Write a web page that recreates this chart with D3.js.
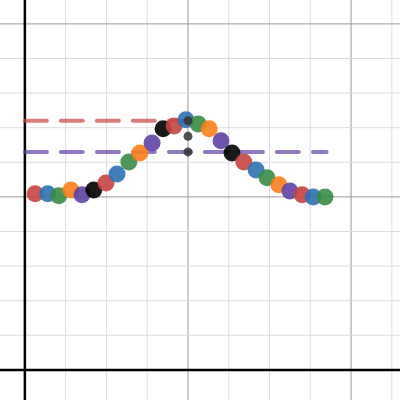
<!DOCTYPE html>
<html><head><meta charset="utf-8">
<script src="https://cdn.jsdelivr.net/npm/d3@7"></script>
<style>body{margin:0;background:#fff}</style></head>
<body><svg id="chart" width="400" height="400"></svg>
<script>
var xs = [0.25,0.56,0.83,1.13,1.40,1.69,1.99,2.26,2.55,2.82,3.12,3.39,3.66,3.95,4.25,4.52,4.81,5.08,5.37,5.67,5.94,6.23,6.50,6.80,7.07,7.36];
var ys = [5.09,5.09,5.03,5.20,5.06,5.20,5.40,5.66,6.01,6.27,6.56,6.97,7.05,7.23,7.11,6.97,6.62,6.27,6.01,5.78,5.55,5.35,5.17,5.06,5.00,5.00];
var colorKeys = ["r","b","g","o","p","k","r","b","g","o","p","k","r","b","g","o","p","k","r","b","g","o","p","r","b","g"];
var palette = {r:"#c74440", b:"#2d70b3", g:"#388c46", o:"#fa7e19", p:"#6042a6", k:"#000000"};
var redLine = {y: 7.2, x0: 0, x1: 4};
var purpleLine = {y: 6.3, x0: 0, x1: 7.4};
var grayX = [4, 4, 4];
var grayY = [7.2, 6.75, 6.3];

var svg = d3.select('#chart');
var x = d3.scaleLinear().domain([-0.61, 9.2]).range([0, 400]);
var y = d3.scaleLinear().domain([-0.87, 10.69]).range([400, 0]);

// grid
svg.selectAll('line.vx').data(d3.range(0, 10)).enter().append('line')
  .attr('x1', x).attr('x2', x).attr('y1', 0).attr('y2', 400)
  .attr('stroke', function(d) { return d % 4 === 0 ? '#999' : '#ddd'; })
  .attr('stroke-width', 1);
svg.selectAll('line.hy').data(d3.range(0, 11)).enter().append('line')
  .attr('y1', y).attr('y2', y).attr('x1', 0).attr('x2', 400)
  .attr('stroke', function(d) { return d % 5 === 0 ? '#999' : '#ddd'; })
  .attr('stroke-width', 1);
// axes
svg.append('line').attr('x1', x(0)).attr('x2', x(0)).attr('y1', 0).attr('y2', 400)
  .attr('stroke', '#000').attr('stroke-width', 2.5);
svg.append('line').attr('y1', y(0)).attr('y2', y(0)).attr('x1', 0).attr('x2', 400)
  .attr('stroke', '#000').attr('stroke-width', 2.5);

// dashed lines
[[redLine, palette.r], [purpleLine, palette.p]].forEach(function(l) {
  svg.append('line')
    .attr('x1', x(l[0].x0)).attr('x2', x(l[0].x1))
    .attr('y1', y(l[0].y)).attr('y2', y(l[0].y))
    .attr('stroke', l[1]).attr('stroke-opacity', 0.7)
    .attr('stroke-width', 4).attr('stroke-linecap', 'round')
    .attr('stroke-dasharray', '22,14');
});

// dots
svg.selectAll('circle.pt').data(xs).enter().append('circle')
  .attr('cx', function(d) { return x(d); })
  .attr('cy', function(d, i) { return y(ys[i]); })
  .attr('r', 8.5)
  .attr('fill', function(d, i) { return palette[colorKeys[i]]; })
  .attr('fill-opacity', 0.9);

svg.selectAll('circle.gr').data(grayX).enter().append('circle')
  .attr('cx', function(d) { return x(d); })
  .attr('cy', function(d, i) { return y(grayY[i]); })
  .attr('r', 4.5).attr('fill', '#333').attr('fill-opacity', 0.85);
</script></body></html>
